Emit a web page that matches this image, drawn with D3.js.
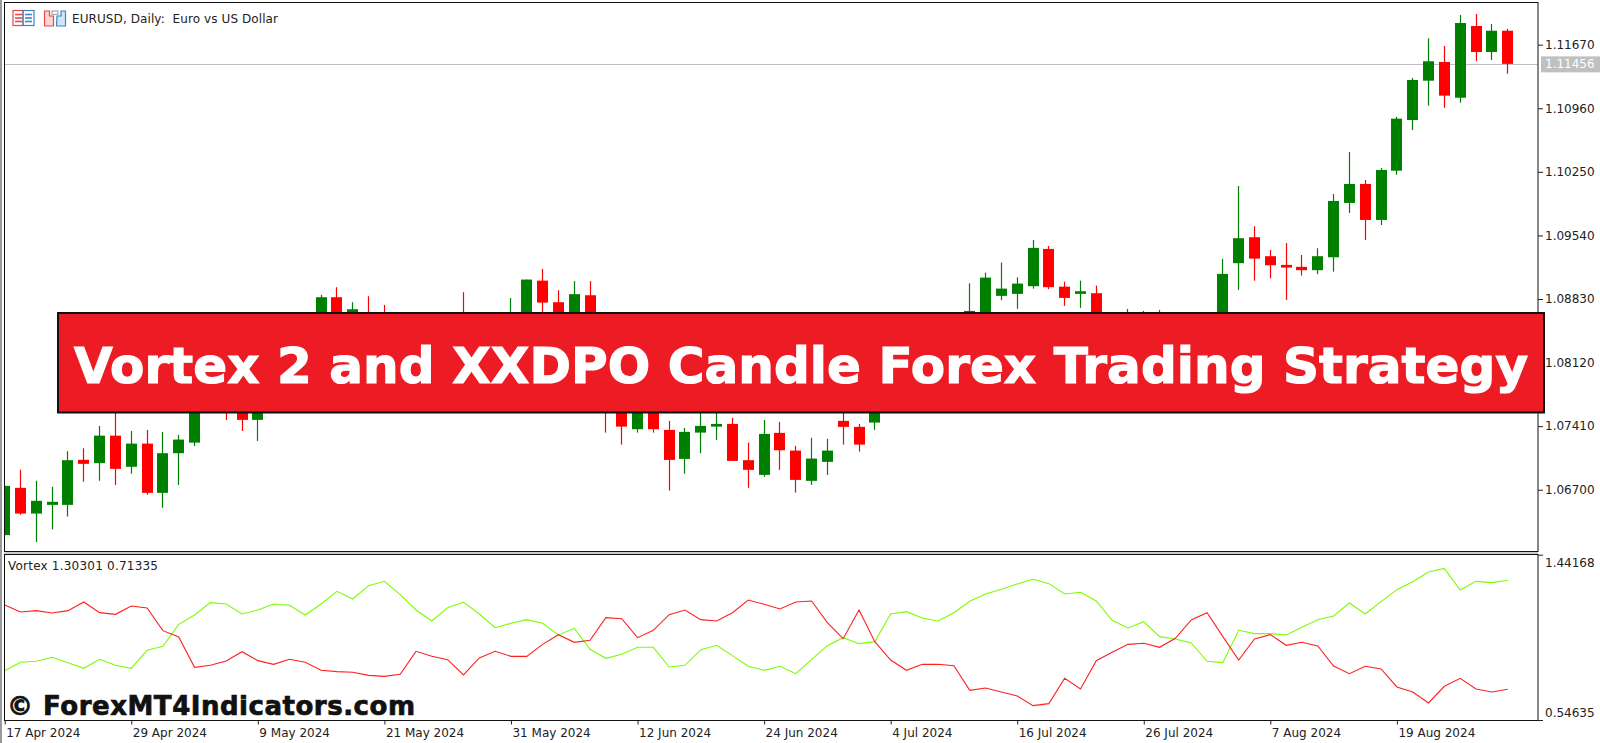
<!DOCTYPE html>
<html><head><meta charset="utf-8">
<style>html,body{margin:0;padding:0;background:#fff;overflow:hidden}svg{display:block}text{font-family:"DejaVu Sans",sans-serif}</style>
<script src="https://cdn.jsdelivr.net/npm/d3@7"></script></head>
<body><svg id="c" width="1600" height="743"></svg>
<script>
const opens=[1.06193,1.06721,1.06434,1.06531,1.06531,1.07034,1.06997,1.07304,1.06956,1.07215,1.06665,1.07108,1.07226,1.07703,1.07759,1.07725,1.07480,1.07926,1.08240,1.08429,1.08485,1.08850,1.08641,1.08652,1.08541,1.08373,1.08206,1.08373,1.08262,1.08596,1.08317,1.08485,1.08485,1.08574,1.09035,1.08794,1.08541,1.08872,1.08038,1.07759,1.07376,1.07681,1.07368,1.07044,1.07338,1.07405,1.07435,1.07030,1.06866,1.07335,1.07137,1.06799,1.07011,1.07469,1.07402,1.07450,1.07681,1.07837,1.08038,1.08262,1.08429,1.08596,1.08596,1.08865,1.08887,1.08973,1.09389,1.08968,1.08887,1.08895,1.08541,1.08262,1.08317,1.08485,1.08150,1.08373,1.08262,1.08485,1.09230,1.09520,1.09308,1.09211,1.09189,1.09152,1.09296,1.09903,1.10115,1.09713,1.10263,1.10829,1.11268,1.11477,1.11078,1.11879,1.11588,1.11826];
const highs=[1.06743,1.06922,1.06799,1.06732,1.07131,1.07164,1.07413,1.07759,1.07357,1.07368,1.07346,1.07312,1.07870,1.08038,1.07870,1.07815,1.08038,1.08373,1.08596,1.08663,1.08876,1.08962,1.08794,1.08861,1.08764,1.08485,1.08541,1.08485,1.08541,1.08906,1.08619,1.08663,1.08841,1.09047,1.09166,1.08928,1.09029,1.09029,1.08150,1.07870,1.07815,1.07759,1.07469,1.07390,1.07647,1.07647,1.07502,1.07226,1.07480,1.07457,1.07189,1.07279,1.07268,1.07647,1.07435,1.07815,1.07982,1.08150,1.08429,1.08596,1.08663,1.09006,1.09125,1.09236,1.09073,1.09490,1.09423,1.09024,1.09035,1.08980,1.08641,1.08720,1.08697,1.08708,1.08429,1.08485,1.08652,1.09278,1.10092,1.09642,1.09378,1.09456,1.09322,1.09397,1.10003,1.10472,1.10159,1.10293,1.10866,1.11298,1.11741,1.11655,1.12002,1.12013,1.11901,1.11849];
const lows=[1.06185,1.06420,1.06115,1.06255,1.06401,1.06788,1.06799,1.06754,1.06878,1.06643,1.06498,1.06754,1.07189,1.07647,1.07480,1.07357,1.07245,1.07815,1.08150,1.08317,1.08373,1.08373,1.08541,1.08373,1.08206,1.08038,1.08094,1.07982,1.08150,1.08206,1.08206,1.08373,1.08373,1.08485,1.08619,1.08429,1.08429,1.08317,1.07338,1.07204,1.07338,1.07338,1.06691,1.06878,1.07108,1.07256,1.07022,1.06721,1.06844,1.06922,1.06668,1.06754,1.06866,1.07204,1.07126,1.07368,1.07614,1.07759,1.07949,1.08173,1.08351,1.08485,1.08485,1.08817,1.08720,1.08946,1.08940,1.08753,1.08731,1.08373,1.08240,1.08150,1.08206,1.08150,1.08038,1.08038,1.08173,1.08373,1.08932,1.09035,1.09062,1.08820,1.09091,1.09107,1.09135,1.09791,1.09490,1.09657,1.10219,1.10718,1.10989,1.10967,1.11022,1.11488,1.11499,1.11346];
const closes=[1.06743,1.06434,1.06576,1.06565,1.07030,1.06989,1.07304,1.06933,1.07215,1.06665,1.07108,1.07260,1.07759,1.07926,1.07569,1.07480,1.07926,1.08262,1.08485,1.08641,1.08850,1.08541,1.08716,1.08485,1.08317,1.08150,1.08429,1.08094,1.08429,1.08317,1.08541,1.08652,1.08641,1.09047,1.08790,1.08541,1.08884,1.08429,1.07647,1.07405,1.07703,1.07376,1.07033,1.07346,1.07413,1.07435,1.07022,1.06922,1.07323,1.07141,1.06810,1.07048,1.07137,1.07402,1.07204,1.07703,1.07870,1.08038,1.08317,1.08485,1.08619,1.08697,1.09069,1.08946,1.09002,1.09401,1.08962,1.08842,1.08917,1.08485,1.08317,1.08541,1.08485,1.08262,1.08317,1.08150,1.08541,1.09110,1.09509,1.09281,1.09207,1.09181,1.09152,1.09308,1.09925,1.10115,1.09713,1.10271,1.10844,1.11276,1.11485,1.11101,1.11912,1.11588,1.11826,1.11456];
const viPlus=[.8136,.8588,.8642,.8858,.8569,.8263,.8750,.8425,.8263,.9237,.9454,1.0646,1.1151,1.1819,1.1747,1.1205,1.1422,1.1747,1.1675,1.1151,1.1747,1.2433,1.2018,1.2740,1.2974,1.2252,1.1422,1.0826,1.1548,1.1855,1.1205,1.0465,1.0700,1.0898,1.0700,1.0068,1.0429,.9292,.8804,.9021,.9400,.9400,.8335,.8425,.9274,.9508,.8949,.8371,.8154,.8371,.7974,.8732,.9490,.9923,.9599,.9707,1.1205,1.1332,1.0989,1.0826,1.1277,1.1891,1.2288,1.2541,1.2830,1.3083,1.2848,1.2288,1.2379,1.1909,1.0862,1.0447,1.0790,.9978,.9851,.9635,.8642,.8569,1.0321,1.0140,1.0140,1.0068,1.0483,1.0898,1.1097,1.1801,1.1205,1.1873,1.2523,1.2956,1.3480,1.3678,1.2505,1.2974,1.2902,1.30301];
const viMinus=[1.1693,1.1314,1.1386,1.1259,1.1386,1.1855,1.1277,1.1187,1.1638,1.1530,1.0303,.9960,.8317,.8425,.8660,.9165,.8678,.8479,.8750,.8588,.8154,.8082,.8046,.7883,.7829,.7938,.9183,.8912,.8732,.7902,.8822,.9183,.8912,.8912,.9562,1.0086,.9671,.9779,1.1007,1.0952,.9923,1.0321,1.1169,1.1422,1.0898,1.0826,1.1277,1.1963,1.1729,1.1476,1.1855,1.1909,1.0736,.9869,1.1422,.9707,.8714,.8154,.8479,.8479,.8407,.7071,.7197,.6981,.6764,.6241,.6349,.7721,.7143,.8678,.9129,.9562,.9617,.9400,.9887,1.0880,1.1277,.9978,.8714,.9851,1.0086,.9508,.9671,.9472,.8389,.7974,.8371,.8226,.7252,.6981,.6385,.7288,.7721,.7143,.6981,.71335];
const dateTicks=[[0,"17 Apr 2024"],[8,"29 Apr 2024"],[16,"9 May 2024"],[24,"21 May 2024"],[32,"31 May 2024"],[40,"12 Jun 2024"],[48,"24 Jun 2024"],[56,"4 Jul 2024"],[64,"16 Jul 2024"],[72,"26 Jul 2024"],[80,"7 Aug 2024"],[88,"19 Aug 2024"]];
const priceTicks=[1.1167,1.1096,1.1025,1.0954,1.0883,1.0812,1.0741,1.0670];
const lastPrice=1.11456, vortexRange=[1.44168,0.54635];
const titleText="EURUSD, Daily:  Euro vs US Dollar", vortexText="Vortex 1.30301 0.71335";
const bannerText="Vortex 2 and XXDPO Candle Forex Trading Strategy", markText="© ForexMT4Indicators.com";

const svg=d3.select("#c");
const L=4.5,R=1538,T=2.5,B1=551.5,T2=554.5,B2=720.5;
const x=d3.scaleLinear().domain([0,88]).range([4.7,1396.9]);
const y=d3.scaleLinear().domain([1.0883,1.1167]).range([299,44.7]);
const yv=d3.scaleLinear().domain(vortexRange).range([554.7,720]);
const defs=svg.append("defs");
defs.append("clipPath").attr("id","m").append("rect").attr("x",L).attr("y",T).attr("width",R-L).attr("height",B1-T);
defs.append("clipPath").attr("id","v").append("rect").attr("x",L).attr("y",T2).attr("width",R-L).attr("height",B2-T2);

svg.append("rect").attr("x",0).attr("y",0).attr("width",2).attr("height",743).attr("fill","#9a9a9a");
svg.append("line").attr("x1",L).attr("x2",R).attr("y1",Math.round(y(lastPrice))+.5).attr("y2",Math.round(y(lastPrice))+.5).attr("stroke","#c0c0c0");

const gm=svg.append("g").attr("clip-path","url(#m)");
const idx=d3.range(opens.length);
const col=i=>closes[i]>=opens[i]?"#008000":"#ff0000";
gm.selectAll("line.w").data(idx).join("line").attr("class","w")
 .attr("x1",i=>Math.floor(x(i))+.5).attr("x2",i=>Math.floor(x(i))+.5)
 .attr("y1",i=>y(highs[i])).attr("y2",i=>y(lows[i])).attr("stroke",col).attr("stroke-width",1.2);
gm.selectAll("rect.b").data(idx).join("rect").attr("class","b")
 .attr("x",i=>Math.floor(x(i))-5).attr("width",11)
 .attr("y",i=>Math.min(y(opens[i]),y(closes[i])))
 .attr("height",i=>Math.max(2,Math.abs(y(opens[i])-y(closes[i])))).attr("fill",col);

const gv=svg.append("g").attr("clip-path","url(#v)");
const ln=d3.line().x((d,i)=>x(i)).y(d=>yv(d));
gv.append("path").attr("d",ln(viPlus)).attr("fill","none").attr("stroke","#7cfc00").attr("stroke-width",1.1);
gv.append("path").attr("d",ln(viMinus)).attr("fill","none").attr("stroke","#ff2020").attr("stroke-width",1.1);

const fr=svg.append("g").attr("fill","none").attr("stroke","#111");
fr.append("rect").attr("x",L).attr("y",T).attr("width",R-L).attr("height",B1-T);
fr.append("rect").attr("x",L).attr("y",T2).attr("width",R-L).attr("height",B2-T2);
svg.append("line").attr("x1",L).attr("x2",R).attr("y1",553).attr("y2",553).attr("stroke","#999");

const ax=svg.append("g").attr("transform",`translate(0,${B2})`).call(d3.axisBottom(x).tickValues(dateTicks.map(d=>d[0])).tickFormat((d,i)=>dateTicks[i][1]).tickSize(4));
ax.select(".domain").remove();
ax.selectAll("line").attr("stroke","#222");
ax.selectAll("text").attr("text-anchor","start").attr("x",1).attr("y",8).attr("font-size",12).attr("fill","#222").style("font-family",'"DejaVu Sans",sans-serif');
const ay=svg.append("g").attr("transform",`translate(${R},0)`).call(d3.axisRight(y).tickValues(priceTicks).tickFormat(d3.format(".5f")).tickSize(5));
ay.select(".domain").remove();
ay.selectAll("line").attr("stroke","#222");
ay.selectAll("text").attr("x",7).attr("font-size",12).attr("fill","#222").style("font-family",'"DejaVu Sans",sans-serif');
const avg=svg.append("g").attr("transform",`translate(${R},0)`).call(d3.axisRight(yv).tickValues(vortexRange).tickFormat(d3.format(".5f")).tickSize(5));
avg.select(".domain").remove();
avg.selectAll("line").attr("stroke","#222");
avg.selectAll("text").attr("x",7).attr("font-size",12).attr("fill","#222").attr("dy",(d,i)=>i==0?"1.0em":"-0.3em").style("font-family",'"DejaVu Sans",sans-serif');

const ly=y(lastPrice);
svg.append("rect").attr("x",1541).attr("y",ly-7.5).attr("width",59).attr("height",16).attr("fill","#c0c0c0");
svg.append("text").attr("x",1545).attr("y",ly+4.5).attr("font-size",12).attr("fill","#fff").text(d3.format(".5f")(lastPrice));

const ic=svg.append("g").attr("fill","none").attr("stroke-width",1.2);
ic.append("rect").attr("x",13).attr("y",10.5).attr("width",10).attr("height",15).attr("stroke","#e8484a");
ic.append("rect").attr("x",23).attr("y",10.5).attr("width",11).attr("height",15).attr("stroke","#3a86c8");
[14.5,18,21.5].forEach(v=>{ic.append("line").attr("x1",15).attr("x2",22).attr("y1",v).attr("y2",v).attr("stroke","#e8484a").attr("stroke-width",1.6);ic.append("line").attr("x1",25).attr("x2",32).attr("y1",v).attr("y2",v).attr("stroke","#3a86c8").attr("stroke-width",1.6);});
ic.append("path").attr("d","M44.5 11h5v5h4v10h-9z").attr("stroke","#e8484a").attr("fill","#fbd5d5");
ic.append("path").attr("d","M57 16h4v-5h4.5v15h-9z").attr("stroke","#3a86c8").attr("fill","#cfe6f7");
ic.append("rect").attr("x",52).attr("y",11).attr("width",6).attr("height",3.5).attr("stroke","#aaa");
svg.append("text").attr("x",72).attr("y",23).attr("font-size",12).attr("fill","#222").style("white-space","pre").attr("textLength",206).text(titleText);
svg.append("text").attr("x",8).attr("y",570).attr("font-size",12).attr("fill","#222").attr("textLength",150).text(vortexText);

const bw=svg.append("g");
bw.append("rect").attr("x",58).attr("y",313).attr("width",1486).attr("height",99.5).attr("fill","#ed1c24").attr("stroke","#111").attr("stroke-width",2);
bw.append("text").attr("x",801).attr("y",383).attr("text-anchor","middle").attr("font-size",50).attr("font-weight",700).attr("fill","#fff").attr("stroke","#fff").attr("stroke-width",1.2).attr("textLength",1454).attr("lengthAdjust","spacing").text(bannerText);
svg.append("text").attr("x",7).attr("y",715).attr("font-size",26).attr("font-weight",700).attr("fill","#111").attr("stroke","#111").attr("stroke-width",.7).attr("textLength",408).attr("lengthAdjust","spacing").text(markText);
</script></body></html>
